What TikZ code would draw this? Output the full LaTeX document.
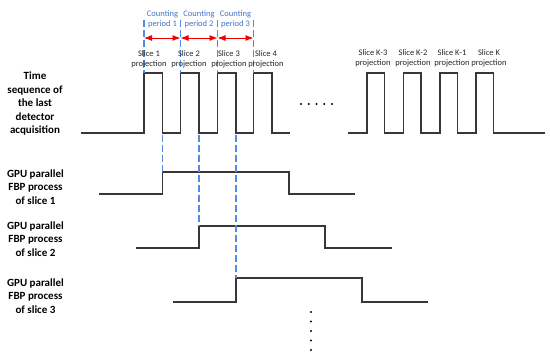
\documentclass[tikz,border=0pt]{standalone}
\usepackage{fontspec}
\setmainfont{Carlito}
\usetikzlibrary{arrows.meta}
\definecolor{wave}{RGB}{55,55,55}
\definecolor{dashblue}{RGB}{80,140,230}
\definecolor{txtblue}{RGB}{68,114,196}
\definecolor{arrred}{RGB}{240,0,0}
\begin{document}
\begin{tikzpicture}[x=1pt,y=-1pt,
  wavestyle/.style={draw=wave,line width=1.1pt},
  guide/.style={draw=dashblue,line width=1.1pt,dash pattern=on 7pt off 3pt},
  period/.style={draw=arrred,line width=0.9pt,{Latex[length=8pt,width=6pt]}-{Latex[length=8pt,width=6pt]}},
  rowlabel/.style={font=\fontsize{11}{13.5}\selectfont\bfseries,align=center,inner sep=0pt,text=black},
  small/.style={font=\fontsize{8.5}{10.5}\selectfont,align=center,inner sep=0pt,text=black!85},
  cnt/.style={font=\fontsize{8.5}{10}\selectfont,align=center,inner sep=0pt,text=txtblue},
  dotmark/.style={fill=black,circle,inner sep=0pt,minimum size=2.4pt}]
\useasboundingbox (0,0) rectangle (550,359);

% top waveform coordinates
\foreach \i/\r in {1/144,2/180.5,3/217.5,4/253.5} {
  \coordinate (r\i) at (\r,73);
  \coordinate (f\i) at (\r+18.5,133);
  \coordinate (t\i) at (\r,20);
  \coordinate (a\i) at (\r,38);
}
\foreach \i/\r in {1/367,2/403.5,3/440,4/476} {
  \coordinate (k\i) at (\r,73);
  \coordinate (kf\i) at (\r+17.5,133);
}
\coordinate (w0) at (81,133);
\coordinate (w1) at (290,133);
\coordinate (v0) at (348,133);
\coordinate (v1) at (545,133);

\draw[wavestyle] (w0) -| (r1) -| (f1) -| (r2) -| (f2) -| (r3) -| (f3) -| (r4) -| (f4) -- (w1);
\draw[wavestyle] (v0) -| (k1) -| (kf1) -| (k2) -| (kf2) -| (k3) -| (kf3) -| (k4) -| (kf4) -- (v1);

% GPU waveforms
\coordinate (g1s) at (99,194);  \coordinate (g1r) at (162.5,172); \coordinate (g1f) at (289,194); \coordinate (g1e) at (355,194);
\coordinate (g2s) at (136,248); \coordinate (g2r) at (199,226);   \coordinate (g2f) at (325,248); \coordinate (g2e) at (392,248);
\coordinate (g3s) at (173,302); \coordinate (g3r) at (236,278);   \coordinate (g3f) at (362,302); \coordinate (g3e) at (428,302);
\draw[wavestyle] (g1s) -| (g1r) -| (g1f) -- (g1e);
\draw[wavestyle] (g2s) -| (g2r) -| (g2f) -- (g2e);
\draw[wavestyle] (g3s) -| (g3r) -| (g3f) -- (g3e);

% dashed guides
\foreach \i in {1,2,3,4} { \draw[guide] (t\i) -- (r\i); }
\draw[guide,shorten <=1.5pt] (f1) -- (g1r);
\draw[guide,shorten <=1.5pt] (f2) -- (g2r);
\draw[guide,shorten <=1.5pt] (f3) -- (g3r);

% counting period arrows
\draw[period] (a1) -- (a2);
\draw[period] (a2) -- (a3);
\draw[period] (a3) -- (a4);
\node[cnt] (c1) at (162.5,19) {Counting\\period 1};
\node[cnt] (c2) at (199,19) {Counting\\period 2};
\node[cnt] (c3) at (235.5,19) {Counting\\period 3};

% slice labels
\node[small] (s1) at (149,59.5) {Slice 1\\projection};
\node[small] (s2) at (189,59.5) {Slice 2\\projection};
\node[small] (s3) at (229,59.5) {Slice 3\\projection};
\node[small] (s4) at (266,59.5) {Slice 4\\projection};
\node[small] (sk3) at (373,58.5) {Slice K-3\\projection};
\node[small] (sk2) at (413,58.5) {Slice K-2\\projection};
\node[small] (sk1) at (452,58.5) {Slice K-1\\projection};
\node[small] (sk0) at (489,58.5) {Slice K\\projection};

% row labels
\node[rowlabel] (lt) at (35,104) {Time\\sequence of\\the last\\detector\\acquisition};
\node[rowlabel] (lg1) at (35.5,187) {GPU parallel\\FBP process\\of slice 1};
\node[rowlabel] (lg2) at (35.5,239) {GPU parallel\\FBP process\\of slice 2};
\node[rowlabel] (lg3) at (35.5,296) {GPU parallel\\FBP process\\of slice 3};

% ellipsis dots
\foreach \j/\x in {1/301,2/308.75,3/316.5,4/324.25,5/332} { \node[dotmark] (hd\j) at (\x,104) {}; }
\foreach \j/\y in {1/312,2/321.5,3/331,4/340.5,5/350} { \node[dotmark] (vd\j) at (311,\y) {}; }
\end{tikzpicture}
\end{document}
